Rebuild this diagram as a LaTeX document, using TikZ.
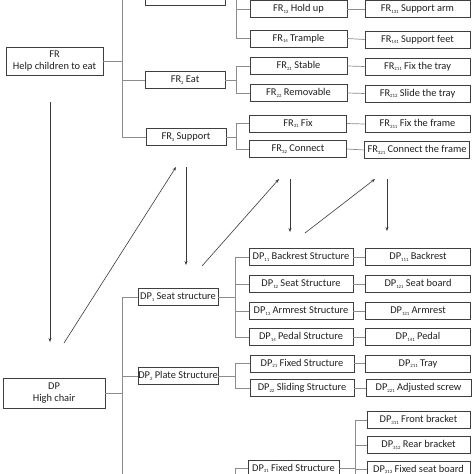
\documentclass[tikz,border=0pt]{standalone}
\usepackage{fontspec}
\setmainfont{Carlito}
\usetikzlibrary{arrows.meta}
\definecolor{boxc}{HTML}{3F3F3F}
\definecolor{linec}{HTML}{8C8C8C}
\definecolor{txtc}{HTML}{202020}
\definecolor{arrc}{HTML}{3A3A3A}
\newcommand\sbs[1]{\raisebox{-0.3ex}{\fontsize{4.8}{4.8}\selectfont #1}}
\begin{document}
\begin{tikzpicture}[x=1pt,y=-1pt,
  bx/.style={draw=boxc, line width=0.9pt, fill=white, inner sep=0pt, minimum height=17pt, text=txtc, font=\fontsize{10.4}{12}\selectfont},
  wa/.style={bx, minimum width=80pt},
  wb/.style={bx, minimum width=97pt},
  wc/.style={bx, minimum width=104pt},
  wd/.style={bx, minimum width=105pt},
  conn/.style={draw=linec, line width=0.7pt},
  arr/.style={draw=arrc, line width=0.6pt, -{Stealth[length=4pt,width=3pt]}}]
\useasboundingbox (0,0) rectangle (474,474);
\clip (0,0) rectangle (474,474);
\fill[white] (0,0) rectangle (474,474);

% ---------- FR side ----------
\node[bx, minimum width=97pt, minimum height=28pt, align=center] (FR) at (54.5,61) {FR\\Help children to eat};
\node[wa, minimum height=18pt] (FR1) at (185,-4) {};
\node[wa] (FR2) at (185,80) {FR\sbs{2} Eat};
\node[wa] (FR3) at (186,137) {FR\sbs{3} Support};

\node[wb] (FR13) at (298.5,9) {FR\sbs{13} Hold up};
\node[wb] (FR14) at (298.5,38.5) {FR\sbs{14} Trample};
\node[wb] (FR21) at (298.5,66) {FR\sbs{21} Stable};
\node[wb] (FR22) at (298.5,93) {FR\sbs{22} Removable};
\node[wb] (FR31) at (298,123.5) {FR\sbs{31} Fix};
\node[wb] (FR32) at (298,149) {FR\sbs{32} Connect};

\node[wd] (FR131) at (417.5,9) {FR\sbs{131} Support arm};
\node[wd] (FR141) at (417.5,39.5) {FR\sbs{141} Support feet};
\node[wd] (FR211) at (417.5,66.5) {FR\sbs{211} Fix the tray};
\node[wd] (FR212) at (417.5,93.5) {FR\sbs{212} Slide the tray};
\node[wd] (FR311) at (417.5,124) {FR\sbs{311} Fix the frame};
\node[wd] (FR321) at (417,150) {FR\sbs{321} Connect the frame};

\foreach \c in {FR1,FR2,FR3}{\draw[conn] (FR.east) -- ++(19,0) |- (\c.west);}
\foreach \c in {FR13,FR14}{\draw[conn] (FR1.east) -- ++(11,0) |- (\c.west);}
\foreach \c in {FR21,FR22}{\draw[conn] (FR2.east) -- ++(11,0) |- (\c.west);}
\foreach \c in {FR31,FR32}{\draw[conn] (FR3.east) -- ++(10,0) |- (\c.west);}
\draw[conn] (FR13.east) -- (FR131.west);
\draw[conn] (FR14.east) -- (FR141.west);
\draw[conn] (FR21.east) -- (FR211.west);
\draw[conn] (FR22.east) -- (FR212.west);
\draw[conn] (FR31.east) -- (FR311.west);
\draw[conn] (FR32.east) -- (FR321.west);

% ---------- DP side ----------
\node[bx, minimum width=102pt, minimum height=30pt, align=center] (DP) at (54,393) {DP\\High chair};
\node[wa] (DP1) at (178,297) {DP\sbs{1} Seat structure};
\node[wa] (DP2) at (178,376) {DP\sbs{2} Plate Structure};
\coordinate (dp3w) at (138,505);
\coordinate (dp3e) at (218,505);

\node[wc] (DP11) at (301,257) {DP\sbs{11} Backrest Structure};
\node[wc] (DP12) at (301,284) {DP\sbs{12} Seat Structure};
\node[wc] (DP13) at (301,311) {DP\sbs{13} Armrest Structure};
\node[wc] (DP14) at (301,337) {DP\sbs{14} Pedal Structure};
\node[wc] (DP21) at (302,363.5) {DP\sbs{21} Fixed Structure};
\node[wc] (DP22) at (302,388) {DP\sbs{22} Sliding Structure};
\node[bx, minimum width=91pt] (DP31) at (293.5,468.5) {DP\sbs{31} Fixed Structure};

\node[wd] (DP111) at (418,257) {DP\sbs{111} Backrest};
\node[wd] (DP121) at (418,284) {DP\sbs{121} Seat board};
\node[wd] (DP131) at (418,311) {DP\sbs{131} Armrest};
\node[wd] (DP141) at (418,337) {DP\sbs{141} Pedal};
\node[wd] (DP211) at (418,363.5) {DP\sbs{211} Tray};
\node[wd] (DP221) at (418.5,388) {DP\sbs{221} Adjusted screw};
\node[bx, minimum width=103pt] (DP311) at (418.5,420) {DP\sbs{311} Front bracket};
\node[bx, minimum width=103pt] (DP312) at (418.5,445) {DP\sbs{312} Rear bracket};
\node[bx, minimum width=103pt] (DP313) at (418.5,469.5) {DP\sbs{313} Fixed seat board};
\coordinate (dp314) at (367,495);

\foreach \c in {DP1,DP2,dp3w}{\draw[conn] (DP.east) -- ++(17,0) |- (\c);}
\foreach \c in {DP11,DP12,DP13,DP14}{\draw[conn] (DP1.east) -- ++(17,0) |- (\c.west);}
\foreach \c in {DP21,DP22}{\draw[conn] (DP2.east) -- ++(17,0) |- (\c.west);}
\draw[conn] (dp3e) -- ++(17,0) |- (DP31.west);
\foreach \c in {DP311,DP312,DP313}{\draw[conn] (DP31.east) -- ++(16,0) |- (\c.west);}
\draw[conn] (DP31.east) -- ++(16,0) |- (dp314);
\draw[conn] (DP11.east) -- (DP111.west);
\draw[conn] (DP12.east) -- (DP121.west);
\draw[conn] (DP13.east) -- (DP131.west);
\draw[conn] (DP14.east) -- (DP141.west);
\draw[conn] (DP21.east) -- (DP211.west);
\draw[conn] (DP22.east) -- (DP221.west);

% ---------- mapping arrows ----------
\coordinate (a1s) at (64,343);  \coordinate (a1e) at (176,167);
\coordinate (a2s) at (50,102);  \coordinate (a2e) at (50,342);
\coordinate (a3s) at (186,167); \coordinate (a3e) at (186,265);
\coordinate (a4s) at (202,266); \coordinate (a4e) at (279,179);
\coordinate (a5s) at (290,179); \coordinate (a5e) at (290,232);
\coordinate (a6s) at (305,233); \coordinate (a6e) at (375,179);
\coordinate (a7s) at (387,179); \coordinate (a7e) at (387,231);
\foreach \i in {1,...,7}{\draw[arr] (a\i s) -- (a\i e);}
\end{tikzpicture}
\end{document}
